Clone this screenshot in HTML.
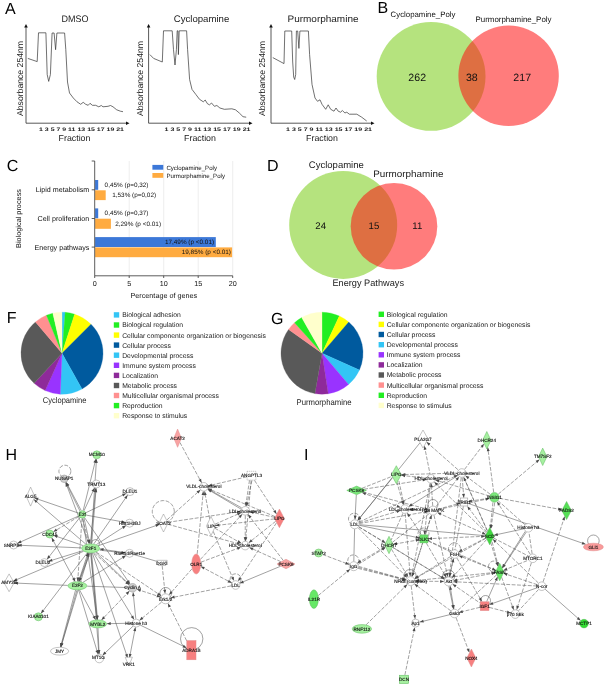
<!DOCTYPE html>
<html><head><meta charset="utf-8"><title>Figure</title>
<style>html,body{margin:0;padding:0;background:#fff}svg{display:block}text{font-family:"Liberation Sans", sans-serif;text-rendering:geometricPrecision}</style></head>
<body><svg width="604" height="685" viewBox="0 0 604 685">
<rect width="604" height="685" fill="#fff"/>
<text x="5.0" y="13.9" font-size="16" text-anchor="start" fill="#000" >A</text>
<text x="377.5" y="12.5" font-size="16" text-anchor="start" fill="#000" >B</text>
<text x="6.8" y="170.8" font-size="16" text-anchor="start" fill="#000" >C</text>
<text x="267.0" y="170.5" font-size="16" text-anchor="start" fill="#000" >D</text>
<text x="6.8" y="323.4" font-size="16" text-anchor="start" fill="#000" >F</text>
<text x="271.0" y="324.0" font-size="16" text-anchor="start" fill="#000" >G</text>
<text x="5.5" y="459.6" font-size="16" text-anchor="start" fill="#000" >H</text>
<text x="304.0" y="459.8" font-size="16" text-anchor="start" fill="#000" >I</text>
<path d="M26.0 26.5V123.2H127.0" fill="none" stroke="#222" stroke-width="0.75"/>
<path d="M24.2 27.5L26.0 24.0L27.8 27.5Z" fill="#111"/>
<path d="M126.0 121.4L129.5 123.2L126.0 125.0Z" fill="#111"/>
<path d="M27.8 58.4 L37.2 61.6 L38.5 32.8 L45.9 32.8 L47.2 74.5 L48.7 81.4 L50.4 74.5 L52.1 33.0 L54.1 33.0 L55.6 49.7 L56.9 33.0 L64.6 33.0 L65.8 49.7 L67.5 82.0 L69.5 93.0 L73.3 98.0 L77.0 101.8 L80.7 104.3 L83.2 102.3 L85.7 104.3 L88.2 105.3 L90.0 103.3 L92.4 105.3 L95.6 105.3 L98.8 106.8 L101.3 105.5 L103.0 106.8 L108.0 106.3 L110.5 105.5 L113.0 106.8 L116.7 109.8 L120.4 111.2 L123.0 111.7" fill="none" stroke="#333" stroke-width="0.7" stroke-linejoin="round"/>
<text x="75.0" y="22.0" font-size="9.5" text-anchor="middle" fill="#1a1a1a" textLength="27.0" lengthAdjust="spacingAndGlyphs" >DMSO</text>
<text x="74.5" y="141.0" font-size="8.8" text-anchor="middle" fill="#1a1a1a" >Fraction</text>
<text x="22.8" y="78.5" font-size="8.6" text-anchor="middle" fill="#1a1a1a" textLength="75.0" lengthAdjust="spacingAndGlyphs" transform="rotate(-90 22.8 78.5)" >Absorbance 254nm</text>
<text x="81.5" y="131.4" font-size="5" text-anchor="middle" fill="#222" textLength="85.0" lengthAdjust="spacingAndGlyphs" font-weight="bold" >1 3 5 7 9 11 13 15 17 19 21</text>
<path d="M148.6 26.5V123.2H250.0" fill="none" stroke="#222" stroke-width="0.75"/>
<path d="M146.8 27.5L148.6 24.0L150.4 27.5Z" fill="#111"/>
<path d="M249.0 121.4L252.5 123.2L249.0 125.0Z" fill="#111"/>
<path d="M149.9 54.6 L153.6 58.4 L162.3 62.0 L163.5 30.8 L172.2 30.8 L173.5 49.7 L175.0 65.0 L176.4 49.7 L177.2 30.8 L178.0 30.8 L178.4 54.6 L179.2 30.8 L186.6 30.8 L187.6 49.7 L189.6 79.5 L192.0 89.4 L195.8 94.4 L199.5 99.3 L203.3 101.8 L205.2 100.0 L207.5 103.8 L209.5 104.8 L211.5 103.0 L214.4 106.3 L216.9 105.5 L219.9 108.0 L224.4 109.3 L231.8 108.8 L235.5 109.8 L239.3 113.0 L243.0 116.7 L246.2 117.2" fill="none" stroke="#333" stroke-width="0.7" stroke-linejoin="round"/>
<text x="201.5" y="22.0" font-size="9.5" text-anchor="middle" fill="#1a1a1a" textLength="55.5" lengthAdjust="spacingAndGlyphs" >Cyclopamine</text>
<text x="200.0" y="141.0" font-size="8.8" text-anchor="middle" fill="#1a1a1a" >Fraction</text>
<text x="142.8" y="78.5" font-size="8.6" text-anchor="middle" fill="#1a1a1a" textLength="75.0" lengthAdjust="spacingAndGlyphs" transform="rotate(-90 142.8 78.5)" >Absorbance 254nm</text>
<text x="207.5" y="131.4" font-size="5" text-anchor="middle" fill="#222" textLength="86.0" lengthAdjust="spacingAndGlyphs" font-weight="bold" >1 3 5 7 9 11 13 15 17 19 21</text>
<path d="M271.0 26.5V123.2H372.0" fill="none" stroke="#222" stroke-width="0.75"/>
<path d="M269.2 27.5L271.0 24.0L272.8 27.5Z" fill="#111"/>
<path d="M371.0 121.4L374.5 123.2L371.0 125.0Z" fill="#111"/>
<path d="M272.8 57.6 L284.0 63.6 L284.8 31.0 L291.7 31.0 L292.7 62.0 L293.7 77.0 L294.7 79.5 L295.7 74.5 L296.4 31.0 L297.7 31.0 L298.9 48.4 L299.9 31.0 L308.4 31.0 L309.6 54.6 L312.0 84.4 L315.0 98.0 L317.5 101.3 L320.0 99.8 L322.0 104.3 L325.7 109.3 L328.2 104.8 L330.7 109.3 L334.0 111.2 L336.0 108.0 L338.2 111.2 L340.6 112.2 L342.4 110.5 L344.9 113.0 L346.8 112.2 L349.3 114.2 L356.8 114.2 L361.7 117.2 L366.7 121.0" fill="none" stroke="#333" stroke-width="0.7" stroke-linejoin="round"/>
<text x="323.0" y="22.0" font-size="9.5" text-anchor="middle" fill="#1a1a1a" textLength="71.0" lengthAdjust="spacingAndGlyphs" >Purmorphamine</text>
<text x="322.0" y="141.0" font-size="8.8" text-anchor="middle" fill="#1a1a1a" >Fraction</text>
<text x="265.3" y="78.5" font-size="8.6" text-anchor="middle" fill="#1a1a1a" textLength="75.0" lengthAdjust="spacingAndGlyphs" transform="rotate(-90 265.3 78.5)" >Absorbance 254nm</text>
<text x="329.0" y="131.4" font-size="5" text-anchor="middle" fill="#222" textLength="86.0" lengthAdjust="spacingAndGlyphs" font-weight="bold" >1 3 5 7 9 11 13 15 17 19 21</text>
<circle cx="431.1" cy="76.4" r="54.4" fill="#79cc14" fill-opacity="0.55"/>
<circle cx="508.6" cy="75.8" r="50.2" fill="#ff1010" fill-opacity="0.55"/>
<text x="390.6" y="17.4" font-size="7.8" text-anchor="start" fill="#111" textLength="64.8" lengthAdjust="spacingAndGlyphs" >Cyclopamine_Poly</text>
<text x="475.5" y="22.4" font-size="7.9" text-anchor="start" fill="#111" textLength="76.0" lengthAdjust="spacingAndGlyphs" >Purmorphamine_Poly</text>
<text x="417.2" y="80.5" font-size="10.6" text-anchor="middle" fill="#111" >262</text>
<text x="471.8" y="80.5" font-size="10.6" text-anchor="middle" fill="#111" >38</text>
<text x="522.2" y="80.5" font-size="10.6" text-anchor="middle" fill="#111" >217</text>
<path d="M129.2 161V275.8" stroke="#e3e3e3" stroke-width="0.6"/>
<path d="M163.7 161V275.8" stroke="#e3e3e3" stroke-width="0.6"/>
<path d="M198.2 161V275.8" stroke="#e3e3e3" stroke-width="0.6"/>
<path d="M232.7 161V275.8" stroke="#e3e3e3" stroke-width="0.6"/>
<rect x="95.1" y="180" width="3.1" height="9.8" fill="#3c78d8"/>
<rect x="95.1" y="190.3" width="10.6" height="9.8" fill="#ffab40"/>
<rect x="95.1" y="208.4" width="3.1" height="9.9" fill="#3c78d8"/>
<rect x="95.1" y="218.7" width="15.8" height="10.1" fill="#ffab40"/>
<rect x="95.1" y="237.1" width="120.7" height="9.9" fill="#3c78d8"/>
<rect x="95.1" y="247.4" width="137.0" height="9.8" fill="#ffab40"/>
<path d="M91.7 161H94.7V275.8H232.7" fill="none" stroke="#333" stroke-width="0.8"/>
<path d="M91.7 189.8H94.7" stroke="#333" stroke-width="0.8"/>
<path d="M91.7 218.5H94.7" stroke="#333" stroke-width="0.8"/>
<path d="M91.7 247.1H94.7" stroke="#333" stroke-width="0.8"/>
<path d="M94.7 275.8v2.2" stroke="#333" stroke-width="0.8"/>
<text x="94.7" y="286.3" font-size="7.2" text-anchor="middle" fill="#111" >0</text>
<path d="M129.2 275.8v2.2" stroke="#333" stroke-width="0.8"/>
<text x="129.2" y="286.3" font-size="7.2" text-anchor="middle" fill="#111" >5</text>
<path d="M163.7 275.8v2.2" stroke="#333" stroke-width="0.8"/>
<text x="163.7" y="286.3" font-size="7.2" text-anchor="middle" fill="#111" >10</text>
<path d="M198.2 275.8v2.2" stroke="#333" stroke-width="0.8"/>
<text x="198.2" y="286.3" font-size="7.2" text-anchor="middle" fill="#111" >15</text>
<path d="M232.7 275.8v2.2" stroke="#333" stroke-width="0.8"/>
<text x="232.7" y="286.3" font-size="7.2" text-anchor="middle" fill="#111" >20</text>
<text x="163.8" y="298.0" font-size="7.2" text-anchor="middle" fill="#111" textLength="66.5" lengthAdjust="spacingAndGlyphs" >Percentage of genes</text>
<text x="21.0" y="218.5" font-size="7.2" text-anchor="middle" fill="#111" textLength="59.0" lengthAdjust="spacingAndGlyphs" transform="rotate(-90 21.0 218.5)" >Biological process</text>
<text x="89.3" y="192.3" font-size="7.1" text-anchor="end" fill="#111" textLength="53.6" lengthAdjust="spacingAndGlyphs" >Lipid metabolism</text>
<text x="89.3" y="221.0" font-size="7.1" text-anchor="end" fill="#111" textLength="51.7" lengthAdjust="spacingAndGlyphs" >Cell proliferation</text>
<text x="89.3" y="249.6" font-size="7.1" text-anchor="end" fill="#111" textLength="54.7" lengthAdjust="spacingAndGlyphs" >Energy pathways</text>
<rect x="152.4" y="164.9" width="10.9" height="4.8" fill="#3c78d8"/>
<rect x="152.4" y="173" width="10.9" height="4.8" fill="#ffab40"/>
<text x="166.4" y="169.7" font-size="6.1" text-anchor="start" fill="#111" textLength="50.6" lengthAdjust="spacingAndGlyphs" >Cyclopamine_Poly</text>
<text x="166.4" y="177.7" font-size="6.1" text-anchor="start" fill="#111" textLength="58.6" lengthAdjust="spacingAndGlyphs" >Purmorphamine_Poly</text>
<text x="104.6" y="186.5" font-size="6.3" text-anchor="start" fill="#111" textLength="43.9" lengthAdjust="spacingAndGlyphs" >0,45% (p=0,32)</text>
<text x="112.2" y="196.9" font-size="6.3" text-anchor="start" fill="#111" textLength="43.9" lengthAdjust="spacingAndGlyphs" >1,53% (p=0,02)</text>
<text x="104.6" y="215.3" font-size="6.3" text-anchor="start" fill="#111" textLength="43.9" lengthAdjust="spacingAndGlyphs" >0,45% (p=0,37)</text>
<text x="115.2" y="225.6" font-size="6.3" text-anchor="start" fill="#111" textLength="45.9" lengthAdjust="spacingAndGlyphs" >2,29% (p &lt;0.01)</text>
<text x="164.9" y="244.1" font-size="6.3" text-anchor="start" fill="#111" textLength="49.2" lengthAdjust="spacingAndGlyphs" >17,49% (p &lt;0.01)</text>
<text x="181.7" y="254.4" font-size="6.3" text-anchor="start" fill="#111" textLength="49.3" lengthAdjust="spacingAndGlyphs" >19,85% (p &lt;0.01)</text>
<circle cx="343.2" cy="224.9" r="54" fill="#79cc14" fill-opacity="0.55"/>
<circle cx="394" cy="226.3" r="43.3" fill="#ff1010" fill-opacity="0.55"/>
<text x="308.8" y="167.5" font-size="9.5" text-anchor="start" fill="#1a1a1a" textLength="55.0" lengthAdjust="spacingAndGlyphs" >Cyclopamine</text>
<text x="373.2" y="176.8" font-size="9.5" text-anchor="start" fill="#1a1a1a" textLength="70.2" lengthAdjust="spacingAndGlyphs" >Purmorphamine</text>
<text x="332.4" y="285.5" font-size="9.3" text-anchor="start" fill="#1a1a1a" textLength="71.6" lengthAdjust="spacingAndGlyphs" >Energy Pathways</text>
<text x="320.7" y="229.0" font-size="9.6" text-anchor="middle" fill="#111" >24</text>
<text x="373.9" y="229.0" font-size="9.6" text-anchor="middle" fill="#111" >15</text>
<text x="417.3" y="229.0" font-size="9.6" text-anchor="middle" fill="#111" >11</text>
<path d="M62 353.2L62.00 312.20A41 41 0 0 1 65.22 312.33Z" fill="#33c5f5" stroke="#33c5f5" stroke-width="0.3"/>
<path d="M62 353.2L65.22 312.33A41 41 0 0 1 74.67 314.21Z" fill="#22ee22" stroke="#22ee22" stroke-width="0.3"/>
<path d="M62 353.2L74.67 314.21A41 41 0 0 1 90.99 324.21Z" fill="#ffff00" stroke="#ffff00" stroke-width="0.3"/>
<path d="M62 353.2L90.99 324.21A41 41 0 0 1 82.00 388.99Z" fill="#005a9e" stroke="#005a9e" stroke-width="0.3"/>
<path d="M62 353.2L82.00 388.99A41 41 0 0 1 60.28 394.16Z" fill="#33c5f5" stroke="#33c5f5" stroke-width="0.3"/>
<path d="M62 353.2L60.28 394.16A41 41 0 0 1 45.19 390.60Z" fill="#9933ff" stroke="#9933ff" stroke-width="0.3"/>
<path d="M62 353.2L45.19 390.60A41 41 0 0 1 34.20 383.33Z" fill="#8e2a9a" stroke="#8e2a9a" stroke-width="0.3"/>
<path d="M62 353.2L34.20 383.33A41 41 0 0 1 35.48 321.93Z" fill="#595959" stroke="#595959" stroke-width="0.3"/>
<path d="M62 353.2L35.48 321.93A41 41 0 0 1 46.44 315.27Z" fill="#ff9090" stroke="#ff9090" stroke-width="0.3"/>
<path d="M62 353.2L46.44 315.27A41 41 0 0 1 52.85 313.23Z" fill="#22ee22" stroke="#22ee22" stroke-width="0.3"/>
<path d="M62 353.2L52.85 313.23A41 41 0 0 1 62.00 312.20Z" fill="#ffffcc" stroke="#ffffcc" stroke-width="0.3"/>
<path d="M322 353.2L322.00 312.20A41 41 0 0 1 339.33 316.04Z" fill="#22ee22" stroke="#22ee22" stroke-width="0.3"/>
<path d="M322 353.2L339.33 316.04A41 41 0 0 1 348.74 322.12Z" fill="#ffff00" stroke="#ffff00" stroke-width="0.3"/>
<path d="M322 353.2L348.74 322.12A41 41 0 0 1 359.40 370.01Z" fill="#005a9e" stroke="#005a9e" stroke-width="0.3"/>
<path d="M322 353.2L359.40 370.01A41 41 0 0 1 348.52 384.47Z" fill="#33c5f5" stroke="#33c5f5" stroke-width="0.3"/>
<path d="M322 353.2L348.52 384.47A41 41 0 0 1 328.20 393.73Z" fill="#9933ff" stroke="#9933ff" stroke-width="0.3"/>
<path d="M322 353.2L328.20 393.73A41 41 0 0 1 314.95 393.59Z" fill="#8e2a9a" stroke="#8e2a9a" stroke-width="0.3"/>
<path d="M322 353.2L314.95 393.59A41 41 0 0 1 288.58 329.45Z" fill="#595959" stroke="#595959" stroke-width="0.3"/>
<path d="M322 353.2L288.58 329.45A41 41 0 0 1 294.57 322.73Z" fill="#ff9090" stroke="#ff9090" stroke-width="0.3"/>
<path d="M322 353.2L294.57 322.73A41 41 0 0 1 301.69 317.59Z" fill="#22ee22" stroke="#22ee22" stroke-width="0.3"/>
<path d="M322 353.2L301.69 317.59A41 41 0 0 1 322.00 312.20Z" fill="#ffffcc" stroke="#ffffcc" stroke-width="0.3"/>
<text x="64.6" y="403.4" font-size="8.3" text-anchor="middle" fill="#1a1a1a" textLength="43.5" lengthAdjust="spacingAndGlyphs" >Cyclopamine</text>
<text x="324.0" y="404.6" font-size="8.3" text-anchor="middle" fill="#1a1a1a" textLength="55.0" lengthAdjust="spacingAndGlyphs" >Purmorphamine</text>
<rect x="113.8" y="312.2" width="5.4" height="5.4" fill="#33c5f5"/>
<text x="122.2" y="317.3" font-size="6.8" text-anchor="start" fill="#1a1a1a" textLength="58.6" lengthAdjust="spacingAndGlyphs" >Biological adhesion</text>
<rect x="113.8" y="322.3" width="5.4" height="5.4" fill="#22ee22"/>
<text x="122.2" y="327.4" font-size="6.8" text-anchor="start" fill="#1a1a1a" textLength="60.9" lengthAdjust="spacingAndGlyphs" >Biological regulation</text>
<rect x="113.8" y="332.4" width="5.4" height="5.4" fill="#ffff00"/>
<text x="122.2" y="337.5" font-size="6.8" text-anchor="start" fill="#1a1a1a" textLength="143.6" lengthAdjust="spacingAndGlyphs" >Cellular componente organization or biogenesis</text>
<rect x="113.8" y="342.4" width="5.4" height="5.4" fill="#005a9e"/>
<text x="122.2" y="347.5" font-size="6.8" text-anchor="start" fill="#1a1a1a" textLength="48.7" lengthAdjust="spacingAndGlyphs" >Cellular process</text>
<rect x="113.8" y="352.5" width="5.4" height="5.4" fill="#33c5f5"/>
<text x="122.2" y="357.6" font-size="6.8" text-anchor="start" fill="#1a1a1a" textLength="71.1" lengthAdjust="spacingAndGlyphs" >Developmental process</text>
<rect x="113.8" y="362.6" width="5.4" height="5.4" fill="#9933ff"/>
<text x="122.2" y="367.7" font-size="6.8" text-anchor="start" fill="#1a1a1a" textLength="73.7" lengthAdjust="spacingAndGlyphs" >Immune system process</text>
<rect x="113.8" y="372.7" width="5.4" height="5.4" fill="#8e2a9a"/>
<text x="122.2" y="377.8" font-size="6.8" text-anchor="start" fill="#1a1a1a" textLength="35.9" lengthAdjust="spacingAndGlyphs" >Localization</text>
<rect x="113.8" y="382.8" width="5.4" height="5.4" fill="#595959"/>
<text x="122.2" y="387.9" font-size="6.8" text-anchor="start" fill="#1a1a1a" textLength="54.8" lengthAdjust="spacingAndGlyphs" >Metabolic process</text>
<rect x="113.8" y="392.8" width="5.4" height="5.4" fill="#ff9090"/>
<text x="122.2" y="397.9" font-size="6.8" text-anchor="start" fill="#1a1a1a" textLength="96.7" lengthAdjust="spacingAndGlyphs" >Multicellular organismal process</text>
<rect x="113.8" y="402.9" width="5.4" height="5.4" fill="#22ee22"/>
<text x="122.2" y="408.0" font-size="6.8" text-anchor="start" fill="#1a1a1a" textLength="40.4" lengthAdjust="spacingAndGlyphs" >Reproduction</text>
<rect x="113.8" y="413.0" width="5.4" height="5.4" fill="#ffffcc"/>
<text x="122.2" y="418.1" font-size="6.8" text-anchor="start" fill="#1a1a1a" textLength="65.0" lengthAdjust="spacingAndGlyphs" >Response to stimulus</text>
<rect x="378.6" y="311.6" width="5.4" height="5.4" fill="#22ee22"/>
<text x="386.7" y="316.7" font-size="6.8" text-anchor="start" fill="#1a1a1a" textLength="60.9" lengthAdjust="spacingAndGlyphs" >Biological regulation</text>
<rect x="378.6" y="321.7" width="5.4" height="5.4" fill="#ffff00"/>
<text x="386.7" y="326.8" font-size="6.8" text-anchor="start" fill="#1a1a1a" textLength="143.6" lengthAdjust="spacingAndGlyphs" >Cellular componente organization or biogenesis</text>
<rect x="378.6" y="331.8" width="5.4" height="5.4" fill="#005a9e"/>
<text x="386.7" y="336.9" font-size="6.8" text-anchor="start" fill="#1a1a1a" textLength="48.7" lengthAdjust="spacingAndGlyphs" >Cellular process</text>
<rect x="378.6" y="342.0" width="5.4" height="5.4" fill="#33c5f5"/>
<text x="386.7" y="347.1" font-size="6.8" text-anchor="start" fill="#1a1a1a" textLength="71.1" lengthAdjust="spacingAndGlyphs" >Developmental process</text>
<rect x="378.6" y="352.1" width="5.4" height="5.4" fill="#9933ff"/>
<text x="386.7" y="357.2" font-size="6.8" text-anchor="start" fill="#1a1a1a" textLength="73.7" lengthAdjust="spacingAndGlyphs" >Immune system process</text>
<rect x="378.6" y="362.2" width="5.4" height="5.4" fill="#8e2a9a"/>
<text x="386.7" y="367.3" font-size="6.8" text-anchor="start" fill="#1a1a1a" textLength="35.9" lengthAdjust="spacingAndGlyphs" >Localization</text>
<rect x="378.6" y="372.3" width="5.4" height="5.4" fill="#595959"/>
<text x="386.7" y="377.4" font-size="6.8" text-anchor="start" fill="#1a1a1a" textLength="54.8" lengthAdjust="spacingAndGlyphs" >Metabolic process</text>
<rect x="378.6" y="382.4" width="5.4" height="5.4" fill="#ff9090"/>
<text x="386.7" y="387.5" font-size="6.8" text-anchor="start" fill="#1a1a1a" textLength="96.7" lengthAdjust="spacingAndGlyphs" >Multicellular organismal process</text>
<rect x="378.6" y="392.6" width="5.4" height="5.4" fill="#22ee22"/>
<text x="386.7" y="397.7" font-size="6.8" text-anchor="start" fill="#1a1a1a" textLength="40.4" lengthAdjust="spacingAndGlyphs" >Reproduction</text>
<rect x="378.6" y="402.7" width="5.4" height="5.4" fill="#ffffcc"/>
<text x="386.7" y="407.8" font-size="6.8" text-anchor="start" fill="#1a1a1a" textLength="65.0" lengthAdjust="spacingAndGlyphs" >Response to stimulus</text>
<circle cx="64.9" cy="471.2" r="6" fill="none" stroke="#555" stroke-width="0.55" stroke-dasharray="3.9 1.5"/>
<circle cx="95.5" cy="543.5" r="4" fill="none" stroke="#555" stroke-width="0.55"/>
<circle cx="77.6" cy="581.5" r="3.6" fill="none" stroke="#555" stroke-width="0.55" stroke-dasharray="3.9 1.5"/>
<circle cx="163.3" cy="511.6" r="11" fill="none" stroke="#555" stroke-width="0.55" stroke-dasharray="3.9 1.5"/>
<circle cx="235.6" cy="579.3" r="5.5" fill="none" stroke="#555" stroke-width="0.55" stroke-dasharray="3.9 1.5"/>
<circle cx="165.7" cy="593.3" r="5.8" fill="none" stroke="#555" stroke-width="0.55"/>
<circle cx="191.7" cy="638.8" r="11.2" fill="none" stroke="#555" stroke-width="0.55"/>
<circle cx="433" cy="504.5" r="5" fill="none" stroke="#555" stroke-width="0.55"/>
<circle cx="354.3" cy="519" r="5.8" fill="none" stroke="#555" stroke-width="0.55" stroke-dasharray="3.9 1.5"/>
<circle cx="423.5" cy="533.5" r="5.5" fill="none" stroke="#555" stroke-width="0.55" stroke-dasharray="3.9 1.5"/>
<circle cx="593.4" cy="540.8" r="5.8" fill="none" stroke="#555" stroke-width="0.55"/>
<circle cx="454.5" cy="548.8" r="6" fill="none" stroke="#555" stroke-width="0.55" stroke-dasharray="3.9 1.5"/>
<circle cx="353.3" cy="560.4" r="5.5" fill="none" stroke="#555" stroke-width="0.55" stroke-dasharray="3.9 1.5"/>
<circle cx="494" cy="566.5" r="5.5" fill="none" stroke="#555" stroke-width="0.55" stroke-dasharray="3.9 1.5"/>
<circle cx="410" cy="575.5" r="6" fill="none" stroke="#555" stroke-width="0.55"/>
<circle cx="448.7" cy="576" r="6" fill="none" stroke="#555" stroke-width="0.55"/>
<circle cx="485.5" cy="600.5" r="5" fill="none" stroke="#555" stroke-width="0.55"/>
<path d="M83.2 510.5L95.8 459.0" stroke="#555" stroke-width="0.55" fill="none"/>
<path d="M95.8 459.0L96.3 463.0L93.4 462.3Z" fill="#4a4a4a"/>
<path d="M80.0 511.1L65.9 482.5" stroke="#555" stroke-width="0.55" fill="none"/>
<path d="M65.9 482.5L68.9 485.3L66.2 486.6Z" fill="#4a4a4a"/>
<path d="M81.2 510.5L66.3 482.3" stroke="#555" stroke-width="0.55" fill="none"/>
<path d="M66.3 482.3L69.4 485.0L66.7 486.4Z" fill="#4a4a4a"/>
<path d="M84.0 510.8L94.5 487.9" stroke="#555" stroke-width="0.55" fill="none"/>
<path d="M94.5 487.9L94.3 492.0L91.5 490.7Z" fill="#4a4a4a"/>
<path d="M85.9 512.7L126.1 493.5" stroke="#555" stroke-width="0.55" fill="none"/>
<path d="M126.1 493.5L123.3 496.4L122.0 493.7Z" fill="#4a4a4a"/>
<path d="M78.5 513.1L34.5 498.0" stroke="#555" stroke-width="0.55" fill="none"/>
<path d="M34.5 498.0L38.6 497.8L37.6 500.6Z" fill="#4a4a4a"/>
<path d="M86.2 515.1L125.4 522.4" stroke="#555" stroke-width="0.55" fill="none"/>
<path d="M125.4 522.4L121.4 523.2L121.9 520.2Z" fill="#4a4a4a"/>
<path d="M78.9 516.5L53.4 531.8" stroke="#555" stroke-width="0.55" fill="none" stroke-dasharray="3.9 1.5"/>
<path d="M53.4 531.8L55.9 528.5L57.4 531.1Z" fill="#4a4a4a"/>
<path d="M78.6 516.0L17.5 543.3" stroke="#555" stroke-width="0.55" fill="none"/>
<path d="M17.5 543.3L20.4 540.3L21.6 543.1Z" fill="#4a4a4a"/>
<path d="M79.8 517.5L47.1 559.2" stroke="#555" stroke-width="0.55" fill="none"/>
<path d="M47.1 559.2L48.2 555.3L50.6 557.2Z" fill="#4a4a4a"/>
<path d="M84.0 518.1L89.8 543.6" stroke="#555" stroke-width="0.55" fill="none"/>
<path d="M89.8 543.6L87.5 540.2L90.4 539.5Z" fill="#4a4a4a"/>
<path d="M82.4 518.5L89.3 543.7" stroke="#555" stroke-width="0.55" fill="none" stroke-dasharray="3.9 1.5"/>
<path d="M89.3 543.7L86.8 540.4L89.7 539.6Z" fill="#4a4a4a"/>
<path d="M82.0 518.4L77.7 581.5" stroke="#555" stroke-width="0.55" fill="none" stroke-dasharray="3.9 1.5"/>
<path d="M77.7 581.5L76.5 577.6L79.5 577.8Z" fill="#4a4a4a"/>
<path d="M82.9 518.4L97.2 619.6" stroke="#555" stroke-width="0.55" fill="none"/>
<path d="M97.2 619.6L95.2 616.1L98.1 615.6Z" fill="#4a4a4a"/>
<path d="M84.6 517.7L130.0 584.0" stroke="#555" stroke-width="0.55" fill="none"/>
<path d="M130.0 584.0L126.6 581.7L129.1 580.0Z" fill="#4a4a4a"/>
<path d="M91.0 543.6L96.5 459.1" stroke="#555" stroke-width="0.55" fill="none"/>
<path d="M96.5 459.1L97.8 463.0L94.8 462.8Z" fill="#4a4a4a"/>
<path d="M88.9 543.7L65.7 482.6" stroke="#555" stroke-width="0.55" fill="none"/>
<path d="M65.7 482.6L68.4 485.6L65.6 486.7Z" fill="#4a4a4a"/>
<path d="M90.5 543.6L95.7 488.3" stroke="#555" stroke-width="0.55" fill="none"/>
<path d="M95.7 488.3L96.9 492.2L93.9 491.9Z" fill="#4a4a4a"/>
<path d="M91.7 543.7L96.1 488.3" stroke="#555" stroke-width="0.55" fill="none"/>
<path d="M96.1 488.3L97.3 492.2L94.3 492.0Z" fill="#4a4a4a"/>
<path d="M93.8 543.9L127.6 495.1" stroke="#555" stroke-width="0.55" fill="none"/>
<path d="M127.6 495.1L126.6 499.1L124.2 497.4Z" fill="#4a4a4a"/>
<path d="M86.0 544.3L33.9 499.4" stroke="#555" stroke-width="0.55" fill="none"/>
<path d="M33.9 499.4L37.7 500.8L35.8 503.0Z" fill="#4a4a4a"/>
<path d="M96.4 544.6L126.0 525.5" stroke="#555" stroke-width="0.55" fill="none"/>
<path d="M126.0 525.5L123.6 528.9L122.0 526.3Z" fill="#4a4a4a"/>
<path d="M98.3 545.7L159.4 524.4" stroke="#555" stroke-width="0.55" fill="none"/>
<path d="M159.4 524.4L156.3 527.1L155.3 524.3Z" fill="#4a4a4a"/>
<path d="M83.1 545.6L53.8 535.4" stroke="#555" stroke-width="0.55" fill="none"/>
<path d="M53.8 535.4L57.8 535.3L56.9 538.1Z" fill="#4a4a4a"/>
<path d="M81.4 547.9L17.9 545.2" stroke="#555" stroke-width="0.55" fill="none"/>
<path d="M17.9 545.2L21.8 543.8L21.6 546.8Z" fill="#4a4a4a"/>
<path d="M82.8 550.7L48.5 561.3" stroke="#555" stroke-width="0.55" fill="none"/>
<path d="M48.5 561.3L51.7 558.8L52.6 561.6Z" fill="#4a4a4a"/>
<path d="M83.6 551.3L13.4 581.0" stroke="#555" stroke-width="0.55" fill="none"/>
<path d="M13.4 581.0L16.3 578.1L17.5 580.9Z" fill="#4a4a4a"/>
<path d="M99.8 549.0L125.4 552.6" stroke="#555" stroke-width="0.55" fill="none"/>
<path d="M99.8 549.0L103.7 548.0L103.3 551.0Z" fill="#4a4a4a"/>
<path d="M99.6 550.2L125.3 553.0" stroke="#555" stroke-width="0.55" fill="none"/>
<path d="M125.3 553.0L121.4 554.0L121.7 551.1Z" fill="#4a4a4a"/>
<path d="M87.4 552.7L41.0 613.4" stroke="#555" stroke-width="0.55" fill="none"/>
<path d="M41.0 613.4L42.1 609.5L44.5 611.3Z" fill="#4a4a4a"/>
<path d="M95.5 552.0L129.4 584.5" stroke="#555" stroke-width="0.55" fill="none"/>
<path d="M129.4 584.5L125.6 583.0L127.7 580.8Z" fill="#4a4a4a"/>
<path d="M94.4 553.1L129.1 584.8" stroke="#555" stroke-width="0.55" fill="none" stroke-dasharray="3.9 1.5"/>
<path d="M129.1 584.8L125.3 583.4L127.3 581.2Z" fill="#4a4a4a"/>
<path d="M96.2 552.0L161.2 595.8" stroke="#555" stroke-width="0.55" fill="none" stroke-dasharray="3.9 1.5"/>
<path d="M161.2 595.8L157.2 595.0L158.9 592.5Z" fill="#4a4a4a"/>
<path d="M91.6 552.9L97.5 619.6" stroke="#555" stroke-width="0.55" fill="none"/>
<path d="M97.5 619.6L95.7 615.9L98.7 615.7Z" fill="#4a4a4a"/>
<path d="M90.6 553.0L97.2 619.6" stroke="#555" stroke-width="0.55" fill="none"/>
<path d="M97.2 619.6L95.4 616.0L98.4 615.7Z" fill="#4a4a4a"/>
<path d="M91.1 553.0L98.9 653.9" stroke="#555" stroke-width="0.55" fill="none"/>
<path d="M98.9 653.9L97.2 650.2L100.1 650.0Z" fill="#4a4a4a"/>
<path d="M92.3 552.9L127.6 657.9" stroke="#555" stroke-width="0.55" fill="none"/>
<path d="M127.6 657.9L125.0 654.8L127.8 653.8Z" fill="#4a4a4a"/>
<path d="M93.4 552.8L134.0 619.4" stroke="#555" stroke-width="0.55" fill="none"/>
<path d="M134.0 619.4L130.7 617.0L133.3 615.4Z" fill="#4a4a4a"/>
<path d="M90.0 553.3L79.2 581.7" stroke="#555" stroke-width="0.55" fill="none"/>
<path d="M79.2 581.7L79.1 577.6L81.9 578.6Z" fill="#4a4a4a"/>
<path d="M89.1 552.9L78.9 581.6" stroke="#555" stroke-width="0.55" fill="none"/>
<path d="M89.1 552.9L89.2 557.0L86.4 556.0Z" fill="#4a4a4a"/>
<path d="M88.1 552.6L78.6 581.5" stroke="#555" stroke-width="0.55" fill="none"/>
<path d="M78.6 581.5L78.4 577.4L81.2 578.3Z" fill="#4a4a4a"/>
<path d="M88.1 552.6L88.4 556.7L85.5 555.7Z" fill="#4a4a4a"/>
<path d="M89.3 552.9L60.9 647.0" stroke="#555" stroke-width="0.55" fill="none"/>
<path d="M60.9 647.0L60.5 643.0L63.4 643.8Z" fill="#4a4a4a"/>
<path d="M75.2 581.6L51.7 537.8" stroke="#555" stroke-width="0.55" fill="none"/>
<path d="M51.7 537.8L54.8 540.4L52.2 541.9Z" fill="#4a4a4a"/>
<path d="M75.2 581.6L72.1 579.0L74.7 577.6Z" fill="#4a4a4a"/>
<path d="M67.7 585.4L14.3 583.0" stroke="#555" stroke-width="0.55" fill="none"/>
<path d="M14.3 583.0L18.1 581.7L18.0 584.7Z" fill="#4a4a4a"/>
<path d="M83.0 582.3L125.9 555.6" stroke="#555" stroke-width="0.55" fill="none"/>
<path d="M125.9 555.6L123.5 558.9L121.9 556.3Z" fill="#4a4a4a"/>
<path d="M87.2 586.2L128.0 587.6" stroke="#555" stroke-width="0.55" fill="none"/>
<path d="M79.6 590.0L95.6 619.7" stroke="#555" stroke-width="0.55" fill="none"/>
<path d="M95.6 619.7L92.5 617.1L95.1 615.7Z" fill="#4a4a4a"/>
<path d="M78.7 590.1L98.0 654.1" stroke="#555" stroke-width="0.55" fill="none"/>
<path d="M98.0 654.1L95.4 650.9L98.3 650.0Z" fill="#4a4a4a"/>
<path d="M76.9 590.2L60.9 647.1" stroke="#555" stroke-width="0.55" fill="none"/>
<path d="M60.9 647.1L60.5 643.0L63.4 643.8Z" fill="#4a4a4a"/>
<path d="M75.6 589.9L60.5 647.0" stroke="#555" stroke-width="0.55" fill="none"/>
<path d="M60.5 647.0L60.0 642.9L62.9 643.7Z" fill="#4a4a4a"/>
<path d="M133.7 554.5L156.3 561.2" stroke="#555" stroke-width="0.55" fill="none"/>
<path d="M162.2 565.8L165.1 593.5" stroke="#555" stroke-width="0.55" fill="none" stroke-dasharray="3.9 1.5"/>
<path d="M165.1 593.5L163.2 589.9L166.2 589.6Z" fill="#4a4a4a"/>
<path d="M137.0 589.3L160.6 597.1" stroke="#555" stroke-width="0.55" fill="none" stroke-dasharray="3.9 1.5"/>
<path d="M160.6 597.1L156.5 597.3L157.4 594.5Z" fill="#4a4a4a"/>
<path d="M137.0 589.3L141.0 589.0L140.1 591.9Z" fill="#4a4a4a"/>
<path d="M129.4 591.1L101.5 620.0" stroke="#555" stroke-width="0.55" fill="none" stroke-dasharray="3.9 1.5"/>
<path d="M101.5 620.0L103.1 616.2L105.3 618.3Z" fill="#4a4a4a"/>
<path d="M129.4 591.1L127.9 594.9L125.7 592.8Z" fill="#4a4a4a"/>
<path d="M135.8 618.8L133.1 592.4" stroke="#555" stroke-width="0.55" fill="none"/>
<path d="M133.1 592.4L134.9 596.0L132.0 596.3Z" fill="#4a4a4a"/>
<path d="M131.9 623.2L106.9 623.7" stroke="#555" stroke-width="0.55" fill="none"/>
<path d="M106.9 623.7L110.7 622.1L110.7 625.1Z" fill="#4a4a4a"/>
<path d="M133.1 626.1L102.6 655.3" stroke="#555" stroke-width="0.55" fill="none"/>
<path d="M102.6 655.3L104.3 651.6L106.4 653.8Z" fill="#4a4a4a"/>
<path d="M135.4 627.3L129.5 657.8" stroke="#555" stroke-width="0.55" fill="none"/>
<path d="M129.5 657.8L128.8 653.8L131.7 654.3Z" fill="#4a4a4a"/>
<path d="M135.4 627.3L136.1 631.3L133.2 630.8Z" fill="#4a4a4a"/>
<path d="M140.1 625.0L186.5 647.8" stroke="#555" stroke-width="0.55" fill="none"/>
<path d="M186.5 647.8L182.5 647.5L183.8 644.8Z" fill="#4a4a4a"/>
<path d="M161.5 602.2L139.5 620.4" stroke="#555" stroke-width="0.55" fill="none" stroke-dasharray="3.9 1.5"/>
<path d="M139.5 620.4L141.5 616.8L143.4 619.1Z" fill="#4a4a4a"/>
<path d="M186.7 640.8L168.0 603.5" stroke="#555" stroke-width="0.55" fill="none" stroke-dasharray="3.9 1.5"/>
<path d="M168.0 603.5L171.0 606.3L168.3 607.6Z" fill="#4a4a4a"/>
<path d="M231.1 585.9L170.8 597.8" stroke="#555" stroke-width="0.55" fill="none" stroke-dasharray="3.9 1.5"/>
<path d="M170.8 597.8L174.2 595.6L174.8 598.5Z" fill="#4a4a4a"/>
<path d="M192.0 568.8L169.1 594.8" stroke="#555" stroke-width="0.55" fill="none" stroke-dasharray="3.9 1.5"/>
<path d="M169.1 594.8L170.5 591.0L172.7 593.0Z" fill="#4a4a4a"/>
<path d="M98.0 628.2L99.1 653.9" stroke="#555" stroke-width="0.55" fill="none"/>
<path d="M99.1 653.9L97.4 650.2L100.4 650.0Z" fill="#4a4a4a"/>
<path d="M179.9 442.4L201.6 482.8" stroke="#555" stroke-width="0.55" fill="none" stroke-dasharray="3.9 1.5"/>
<path d="M201.6 482.8L198.5 480.1L201.1 478.7Z" fill="#4a4a4a"/>
<path d="M166.8 520.0L200.4 489.9" stroke="#555" stroke-width="0.55" fill="none" stroke-dasharray="3.9 1.5"/>
<path d="M200.4 489.9L198.6 493.5L196.5 491.3Z" fill="#4a4a4a"/>
<path d="M168.0 522.3L240.8 511.5" stroke="#555" stroke-width="0.55" fill="none" stroke-dasharray="3.9 1.5"/>
<path d="M240.8 511.5L237.2 513.5L236.8 510.6Z" fill="#4a4a4a"/>
<path d="M167.7 524.2L240.8 544.4" stroke="#555" stroke-width="0.55" fill="none" stroke-dasharray="3.9 1.5"/>
<path d="M240.8 544.4L236.7 544.8L237.5 541.9Z" fill="#4a4a4a"/>
<path d="M246.8 476.8L208.3 485.8" stroke="#555" stroke-width="0.55" fill="none" stroke-dasharray="3.9 1.5"/>
<path d="M208.3 485.8L211.6 483.4L212.3 486.4Z" fill="#4a4a4a"/>
<path d="M251.9 480.6L246.5 506.3" stroke="#555" stroke-width="0.55" fill="none" stroke-dasharray="3.9 1.5"/>
<path d="M246.5 506.3L245.8 502.3L248.7 502.9Z" fill="#4a4a4a"/>
<path d="M249.5 480.2L245.7 506.2" stroke="#555" stroke-width="0.55" fill="none" stroke-dasharray="3.9 1.5"/>
<path d="M245.7 506.2L244.8 502.2L247.8 502.7Z" fill="#4a4a4a"/>
<path d="M254.5 480.4L276.5 514.0" stroke="#555" stroke-width="0.55" fill="none" stroke-dasharray="3.9 1.5"/>
<path d="M276.5 514.0L273.2 511.6L275.7 510.0Z" fill="#4a4a4a"/>
<path d="M251.1 480.4L245.6 541.0" stroke="#555" stroke-width="0.55" fill="none" stroke-dasharray="3.9 1.5"/>
<path d="M245.6 541.0L244.5 537.1L247.4 537.4Z" fill="#4a4a4a"/>
<path d="M241.0 509.1L207.7 489.3" stroke="#555" stroke-width="0.55" fill="none"/>
<path d="M207.7 489.3L211.7 489.9L210.2 492.5Z" fill="#4a4a4a"/>
<path d="M241.7 507.9L207.9 488.9" stroke="#555" stroke-width="0.55" fill="none"/>
<path d="M207.9 488.9L211.9 489.5L210.5 492.1Z" fill="#4a4a4a"/>
<path d="M275.1 516.6L208.0 488.6" stroke="#555" stroke-width="0.55" fill="none" stroke-dasharray="3.9 1.5"/>
<path d="M208.0 488.6L212.1 488.7L211.0 491.4Z" fill="#4a4a4a"/>
<path d="M274.7 517.4L249.8 511.8" stroke="#555" stroke-width="0.55" fill="none" stroke-dasharray="3.9 1.5"/>
<path d="M249.8 511.8L253.8 511.2L253.2 514.1Z" fill="#4a4a4a"/>
<path d="M274.5 518.9L215.6 525.5" stroke="#555" stroke-width="0.55" fill="none" stroke-dasharray="3.9 1.5"/>
<path d="M215.6 525.5L219.2 523.6L219.5 526.6Z" fill="#4a4a4a"/>
<path d="M275.7 521.3L248.8 542.7" stroke="#555" stroke-width="0.55" fill="none" stroke-dasharray="3.9 1.5"/>
<path d="M248.8 542.7L250.8 539.2L252.7 541.5Z" fill="#4a4a4a"/>
<path d="M276.5 522.8L238.1 581.2" stroke="#555" stroke-width="0.55" fill="none" stroke-dasharray="3.9 1.5"/>
<path d="M238.1 581.2L239.0 577.2L241.5 578.8Z" fill="#4a4a4a"/>
<path d="M209.7 518.9L204.6 491.3" stroke="#555" stroke-width="0.55" fill="none" stroke-dasharray="3.9 1.5"/>
<path d="M204.6 491.3L206.8 494.8L203.8 495.3Z" fill="#4a4a4a"/>
<path d="M215.0 524.2L241.1 512.7" stroke="#555" stroke-width="0.55" fill="none" stroke-dasharray="3.9 1.5"/>
<path d="M241.1 512.7L238.2 515.6L237.0 512.8Z" fill="#4a4a4a"/>
<path d="M214.8 528.2L241.2 543.3" stroke="#555" stroke-width="0.55" fill="none" stroke-dasharray="3.9 1.5"/>
<path d="M241.2 543.3L237.2 542.7L238.7 540.1Z" fill="#4a4a4a"/>
<path d="M213.2 531.3L233.8 580.8" stroke="#555" stroke-width="0.55" fill="none" stroke-dasharray="3.9 1.5"/>
<path d="M233.8 580.8L231.0 577.8L233.8 576.7Z" fill="#4a4a4a"/>
<path d="M197.2 553.9L203.3 491.4" stroke="#555" stroke-width="0.55" fill="none" stroke-dasharray="3.9 1.5"/>
<path d="M203.3 491.4L204.5 495.3L201.5 495.0Z" fill="#4a4a4a"/>
<path d="M200.4 559.4L242.2 514.2" stroke="#555" stroke-width="0.55" fill="none" stroke-dasharray="3.9 1.5"/>
<path d="M242.2 514.2L240.7 518.0L238.5 516.0Z" fill="#4a4a4a"/>
<path d="M200.9 562.2L240.9 547.2" stroke="#555" stroke-width="0.55" fill="none" stroke-dasharray="3.9 1.5"/>
<path d="M240.9 547.2L237.9 550.0L236.8 547.1Z" fill="#4a4a4a"/>
<path d="M200.8 566.5L231.5 582.8" stroke="#555" stroke-width="0.55" fill="none" stroke-dasharray="3.9 1.5"/>
<path d="M231.5 582.8L227.5 582.4L228.9 579.7Z" fill="#4a4a4a"/>
<path d="M200.8 566.5L204.9 566.9L203.5 569.6Z" fill="#4a4a4a"/>
<path d="M280.7 566.2L239.8 583.2" stroke="#555" stroke-width="0.55" fill="none"/>
<path d="M239.8 583.2L242.8 580.4L243.9 583.2Z" fill="#4a4a4a"/>
<path d="M280.9 561.7L249.4 547.5" stroke="#555" stroke-width="0.55" fill="none" stroke-dasharray="3.9 1.5"/>
<path d="M249.4 547.5L253.5 547.7L252.2 550.4Z" fill="#4a4a4a"/>
<path d="M283.2 560.4L248.1 514.5" stroke="#555" stroke-width="0.55" fill="none" stroke-dasharray="3.9 1.5"/>
<path d="M248.1 514.5L251.6 516.6L249.2 518.4Z" fill="#4a4a4a"/>
<path d="M245.3 515.4L245.2 541.0" stroke="#555" stroke-width="0.55" fill="none" stroke-dasharray="3.9 1.5"/>
<path d="M245.2 541.0L243.7 537.2L246.7 537.2Z" fill="#4a4a4a"/>
<path d="M419.9 442.9L357.7 520.6" stroke="#555" stroke-width="0.55" fill="none"/>
<path d="M357.7 520.6L358.9 516.6L361.2 518.5Z" fill="#4a4a4a"/>
<path d="M392.4 477.9L357.6 520.4" stroke="#555" stroke-width="0.55" fill="none"/>
<path d="M357.6 520.4L358.8 516.6L361.1 518.5Z" fill="#4a4a4a"/>
<path d="M424.4 445.9L430.1 474.3" stroke="#555" stroke-width="0.55" fill="none" stroke-dasharray="3.9 1.5"/>
<path d="M424.4 445.9L426.6 449.3L423.7 449.9Z" fill="#4a4a4a"/>
<path d="M426.6 442.1L458.3 470.0" stroke="#555" stroke-width="0.55" fill="none" stroke-dasharray="3.9 1.5"/>
<path d="M426.6 442.1L430.4 443.5L428.5 445.8Z" fill="#4a4a4a"/>
<path d="M457.2 473.1L401.5 474.6" stroke="#555" stroke-width="0.55" fill="none" stroke-dasharray="3.9 1.5"/>
<path d="M401.5 474.6L405.3 473.0L405.4 476.0Z" fill="#4a4a4a"/>
<path d="M426.4 478.3L401.3 475.3" stroke="#555" stroke-width="0.55" fill="none" stroke-dasharray="3.9 1.5"/>
<path d="M401.3 475.3L405.2 474.2L404.9 477.2Z" fill="#4a4a4a"/>
<path d="M398.9 481.0L404.0 504.6" stroke="#555" stroke-width="0.55" fill="none" stroke-dasharray="3.9 1.5"/>
<path d="M404.0 504.6L401.7 501.2L404.6 500.5Z" fill="#4a4a4a"/>
<path d="M396.7 481.5L403.3 504.7" stroke="#555" stroke-width="0.55" fill="none" stroke-dasharray="3.9 1.5"/>
<path d="M403.3 504.7L400.9 501.5L403.8 500.7Z" fill="#4a4a4a"/>
<path d="M457.9 475.5L408.7 506.6" stroke="#555" stroke-width="0.55" fill="none"/>
<path d="M408.7 506.6L411.1 503.3L412.7 505.9Z" fill="#4a4a4a"/>
<path d="M356.3 494.9L355.0 519.5" stroke="#555" stroke-width="0.55" fill="none"/>
<path d="M355.0 519.5L353.7 515.6L356.7 515.8Z" fill="#4a4a4a"/>
<path d="M362.1 492.5L400.5 507.4" stroke="#555" stroke-width="0.55" fill="none" stroke-dasharray="3.9 1.5"/>
<path d="M400.5 507.4L396.4 507.5L397.5 504.7Z" fill="#4a4a4a"/>
<path d="M362.1 492.5L366.2 492.5L365.1 495.3Z" fill="#4a4a4a"/>
<path d="M362.0 488.3L391.9 476.4" stroke="#555" stroke-width="0.55" fill="none" stroke-dasharray="3.9 1.5"/>
<path d="M364.1 489.2L426.5 479.5" stroke="#555" stroke-width="0.55" fill="none" stroke-dasharray="3.9 1.5"/>
<path d="M426.5 479.5L422.9 481.6L422.5 478.6Z" fill="#4a4a4a"/>
<path d="M363.0 492.1L428.4 509.4" stroke="#555" stroke-width="0.55" fill="none" stroke-dasharray="3.9 1.5"/>
<path d="M428.4 509.4L424.3 509.9L425.1 507.0Z" fill="#4a4a4a"/>
<path d="M354.6 529.1L353.8 561.4" stroke="#555" stroke-width="0.55" fill="none"/>
<path d="M322.6 554.5L349.2 564.5" stroke="#555" stroke-width="0.55" fill="none" stroke-dasharray="3.9 1.5"/>
<path d="M349.2 564.5L345.1 564.6L346.2 561.8Z" fill="#4a4a4a"/>
<path d="M318.3 595.5L350.0 569.3" stroke="#555" stroke-width="0.55" fill="none" stroke-dasharray="3.9 1.5"/>
<path d="M350.0 569.3L348.0 572.8L346.1 570.5Z" fill="#4a4a4a"/>
<path d="M357.4 563.0L385.3 546.9" stroke="#555" stroke-width="0.55" fill="none" stroke-dasharray="3.9 1.5"/>
<path d="M385.3 546.9L382.8 550.1L381.3 547.5Z" fill="#4a4a4a"/>
<path d="M357.4 563.0L359.9 559.8L361.4 562.4Z" fill="#4a4a4a"/>
<path d="M358.2 564.4L385.6 547.4" stroke="#555" stroke-width="0.55" fill="none" stroke-dasharray="3.9 1.5"/>
<path d="M385.6 547.4L383.1 550.6L381.5 548.1Z" fill="#4a4a4a"/>
<path d="M358.6 566.4L406.0 579.6" stroke="#555" stroke-width="0.55" fill="none" stroke-dasharray="3.9 1.5"/>
<path d="M406.0 579.6L402.0 580.0L402.8 577.1Z" fill="#4a4a4a"/>
<path d="M358.3 567.4L406.0 579.9" stroke="#555" stroke-width="0.55" fill="none" stroke-dasharray="3.9 1.5"/>
<path d="M406.0 579.9L401.9 580.4L402.7 577.5Z" fill="#4a4a4a"/>
<path d="M358.1 568.4L405.9 580.2" stroke="#555" stroke-width="0.55" fill="none" stroke-dasharray="3.9 1.5"/>
<path d="M405.9 580.2L401.8 580.7L402.6 577.8Z" fill="#4a4a4a"/>
<path d="M359.3 522.9L400.4 510.4" stroke="#555" stroke-width="0.55" fill="none" stroke-dasharray="3.9 1.5"/>
<path d="M400.4 510.4L397.2 513.0L396.3 510.1Z" fill="#4a4a4a"/>
<path d="M359.4 523.5L428.3 511.4" stroke="#555" stroke-width="0.55" fill="none" stroke-dasharray="3.9 1.5"/>
<path d="M428.3 511.4L424.8 513.6L424.3 510.6Z" fill="#4a4a4a"/>
<path d="M359.4 525.3L419.6 538.0" stroke="#555" stroke-width="0.55" fill="none"/>
<path d="M419.6 538.0L415.6 538.7L416.2 535.7Z" fill="#4a4a4a"/>
<path d="M358.1 527.7L407.2 577.7" stroke="#555" stroke-width="0.55" fill="none" stroke-dasharray="3.9 1.5"/>
<path d="M407.2 577.7L403.5 576.0L405.6 573.9Z" fill="#4a4a4a"/>
<path d="M358.8 526.8L385.4 542.8" stroke="#555" stroke-width="0.55" fill="none" stroke-dasharray="3.9 1.5"/>
<path d="M385.4 542.8L381.4 542.2L383.0 539.6Z" fill="#4a4a4a"/>
<path d="M358.8 526.8L444.6 579.0" stroke="#555" stroke-width="0.55" fill="none" stroke-dasharray="3.9 1.5"/>
<path d="M444.6 579.0L440.6 578.3L442.1 575.7Z" fill="#4a4a4a"/>
<path d="M359.0 522.2L457.7 475.0" stroke="#555" stroke-width="0.55" fill="none" stroke-dasharray="3.9 1.5"/>
<path d="M457.7 475.0L454.9 478.0L453.6 475.3Z" fill="#4a4a4a"/>
<path d="M464.6 469.3L484.0 443.8" stroke="#555" stroke-width="0.55" fill="none" stroke-dasharray="3.9 1.5"/>
<path d="M484.0 443.8L482.9 447.7L480.6 445.9Z" fill="#4a4a4a"/>
<path d="M493.7 492.3L487.7 447.3" stroke="#555" stroke-width="0.55" fill="none" stroke-dasharray="3.9 1.5"/>
<path d="M487.7 447.3L489.7 450.9L486.8 451.3Z" fill="#4a4a4a"/>
<path d="M498.3 494.1L539.5 459.5" stroke="#555" stroke-width="0.55" fill="none" stroke-dasharray="3.9 1.5"/>
<path d="M539.5 459.5L537.5 463.1L535.6 460.8Z" fill="#4a4a4a"/>
<path d="M499.4 498.3L561.9 509.7" stroke="#555" stroke-width="0.55" fill="none" stroke-dasharray="3.9 1.5"/>
<path d="M561.9 509.7L557.9 510.4L558.5 507.5Z" fill="#4a4a4a"/>
<path d="M494.7 502.6L490.9 528.8" stroke="#555" stroke-width="0.55" fill="none" stroke-dasharray="3.9 1.5"/>
<path d="M490.9 528.8L489.9 524.8L492.9 525.3Z" fill="#4a4a4a"/>
<path d="M492.9 502.4L490.3 528.8" stroke="#555" stroke-width="0.55" fill="none" stroke-dasharray="3.9 1.5"/>
<path d="M490.3 528.8L489.2 524.8L492.2 525.1Z" fill="#4a4a4a"/>
<path d="M489.4 498.2L468.1 501.4" stroke="#555" stroke-width="0.55" fill="none" stroke-dasharray="3.9 1.5"/>
<path d="M468.1 501.4L471.6 499.4L472.1 502.3Z" fill="#4a4a4a"/>
<path d="M490.3 494.3L465.5 475.8" stroke="#555" stroke-width="0.55" fill="none" stroke-dasharray="3.9 1.5"/>
<path d="M465.5 475.8L469.4 476.8L467.6 479.2Z" fill="#4a4a4a"/>
<path d="M489.5 496.0L435.4 480.1" stroke="#555" stroke-width="0.55" fill="none" stroke-dasharray="3.9 1.5"/>
<path d="M435.4 480.1L439.5 479.7L438.6 482.6Z" fill="#4a4a4a"/>
<path d="M489.4 498.5L437.7 509.6" stroke="#555" stroke-width="0.55" fill="none" stroke-dasharray="3.9 1.5"/>
<path d="M489.4 498.5L486.0 500.7L485.4 497.8Z" fill="#4a4a4a"/>
<path d="M543.1 581.8L564.7 516.4" stroke="#555" stroke-width="0.55" fill="none" stroke-dasharray="3.9 1.5"/>
<path d="M564.7 516.4L564.9 520.4L562.1 519.5Z" fill="#4a4a4a"/>
<path d="M545.1 589.2L580.6 620.6" stroke="#555" stroke-width="0.55" fill="none"/>
<path d="M580.6 620.6L576.7 619.2L578.7 616.9Z" fill="#4a4a4a"/>
<path d="M537.4 587.7L489.3 604.6" stroke="#555" stroke-width="0.55" fill="none"/>
<path d="M489.3 604.6L492.4 601.9L493.4 604.7Z" fill="#4a4a4a"/>
<path d="M537.3 584.7L503.6 573.3" stroke="#555" stroke-width="0.55" fill="none" stroke-dasharray="3.9 1.5"/>
<path d="M503.6 573.3L507.7 573.1L506.7 576.0Z" fill="#4a4a4a"/>
<path d="M537.1 586.0L453.5 581.7" stroke="#555" stroke-width="0.55" fill="none" stroke-dasharray="3.9 1.5"/>
<path d="M453.5 581.7L457.4 580.4L457.2 583.4Z" fill="#4a4a4a"/>
<path d="M538.4 583.0L492.9 539.2" stroke="#555" stroke-width="0.55" fill="none" stroke-dasharray="3.9 1.5"/>
<path d="M492.9 539.2L496.7 540.7L494.6 542.9Z" fill="#4a4a4a"/>
<path d="M526.3 532.0L502.4 568.1" stroke="#555" stroke-width="0.55" fill="none"/>
<path d="M502.4 568.1L503.3 564.1L505.8 565.8Z" fill="#4a4a4a"/>
<path d="M525.3 531.3L502.1 567.9" stroke="#555" stroke-width="0.55" fill="none"/>
<path d="M502.1 567.9L502.9 563.9L505.4 565.5Z" fill="#4a4a4a"/>
<path d="M523.8 528.8L494.0 535.2" stroke="#555" stroke-width="0.55" fill="none"/>
<path d="M494.0 535.2L497.4 532.9L498.0 535.9Z" fill="#4a4a4a"/>
<path d="M468.1 503.4L585.7 544.3" stroke="#555" stroke-width="0.55" fill="none"/>
<path d="M585.7 544.3L581.7 544.5L582.6 541.7Z" fill="#4a4a4a"/>
<path d="M524.9 524.7L498.2 500.8" stroke="#555" stroke-width="0.55" fill="none" stroke-dasharray="3.9 1.5"/>
<path d="M492.1 541.8L498.3 566.1" stroke="#555" stroke-width="0.55" fill="none" stroke-dasharray="3.9 1.5"/>
<path d="M498.3 566.1L495.9 562.8L498.8 562.1Z" fill="#4a4a4a"/>
<path d="M490.6 542.2L497.9 566.3" stroke="#555" stroke-width="0.55" fill="none" stroke-dasharray="3.9 1.5"/>
<path d="M497.9 566.3L495.3 563.1L498.2 562.2Z" fill="#4a4a4a"/>
<path d="M485.1 536.3L428.2 538.7" stroke="#555" stroke-width="0.55" fill="none" stroke-dasharray="3.9 1.5"/>
<path d="M428.2 538.7L431.9 537.1L432.1 540.1Z" fill="#4a4a4a"/>
<path d="M485.1 536.3L481.4 538.0L481.2 535.0Z" fill="#4a4a4a"/>
<path d="M485.9 538.0L458.7 551.9" stroke="#555" stroke-width="0.55" fill="none" stroke-dasharray="3.9 1.5"/>
<path d="M458.7 551.9L461.4 548.8L462.8 551.5Z" fill="#4a4a4a"/>
<path d="M486.7 539.4L451.9 577.9" stroke="#555" stroke-width="0.55" fill="none" stroke-dasharray="3.9 1.5"/>
<path d="M451.9 577.9L453.4 574.1L455.6 576.1Z" fill="#4a4a4a"/>
<path d="M485.8 534.4L437.4 512.6" stroke="#555" stroke-width="0.55" fill="none" stroke-dasharray="3.9 1.5"/>
<path d="M437.4 512.6L441.5 512.8L440.2 515.5Z" fill="#4a4a4a"/>
<path d="M485.8 534.4L481.8 534.2L483.0 531.4Z" fill="#4a4a4a"/>
<path d="M487.5 531.2L463.7 477.2" stroke="#555" stroke-width="0.55" fill="none" stroke-dasharray="3.9 1.5"/>
<path d="M463.7 477.2L466.6 480.1L463.8 481.3Z" fill="#4a4a4a"/>
<path d="M486.9 532.3L467.4 506.2" stroke="#555" stroke-width="0.55" fill="none" stroke-dasharray="3.9 1.5"/>
<path d="M467.4 506.2L470.8 508.4L468.4 510.2Z" fill="#4a4a4a"/>
<path d="M493.5 538.0L528.7 556.2" stroke="#555" stroke-width="0.55" fill="none" stroke-dasharray="3.9 1.5"/>
<path d="M486.5 533.0L434.3 482.0" stroke="#555" stroke-width="0.55" fill="none" stroke-dasharray="3.9 1.5"/>
<path d="M434.3 482.0L438.1 483.6L436.0 485.7Z" fill="#4a4a4a"/>
<path d="M486.0 538.2L414.8 578.7" stroke="#555" stroke-width="0.55" fill="none" stroke-dasharray="3.9 1.5"/>
<path d="M414.8 578.7L417.3 575.5L418.8 578.2Z" fill="#4a4a4a"/>
<path d="M495.6 572.8L453.4 580.6" stroke="#555" stroke-width="0.55" fill="none" stroke-dasharray="3.9 1.5"/>
<path d="M453.4 580.6L456.9 578.5L457.4 581.4Z" fill="#4a4a4a"/>
<path d="M495.6 572.8L492.1 574.9L491.5 572.0Z" fill="#4a4a4a"/>
<path d="M495.4 572.4L415.4 580.6" stroke="#555" stroke-width="0.55" fill="none" stroke-dasharray="3.9 1.5"/>
<path d="M415.4 580.6L419.0 578.7L419.3 581.7Z" fill="#4a4a4a"/>
<path d="M495.4 572.4L491.8 574.3L491.5 571.3Z" fill="#4a4a4a"/>
<path d="M497.6 576.8L486.7 601.5" stroke="#555" stroke-width="0.55" fill="none"/>
<path d="M497.6 576.8L497.4 580.9L494.7 579.7Z" fill="#4a4a4a"/>
<path d="M501.6 577.2L513.7 609.8" stroke="#555" stroke-width="0.55" fill="none" stroke-dasharray="3.9 1.5"/>
<path d="M513.7 609.8L511.0 606.7L513.8 605.7Z" fill="#4a4a4a"/>
<path d="M503.5 570.4L528.5 560.1" stroke="#555" stroke-width="0.55" fill="none" stroke-dasharray="3.9 1.5"/>
<path d="M503.5 570.4L506.4 567.6L507.6 570.4Z" fill="#4a4a4a"/>
<path d="M495.9 570.5L458.9 555.7" stroke="#555" stroke-width="0.55" fill="none" stroke-dasharray="3.9 1.5"/>
<path d="M458.9 555.7L463.0 555.7L461.8 558.5Z" fill="#4a4a4a"/>
<path d="M496.0 570.4L428.2 540.8" stroke="#555" stroke-width="0.55" fill="none" stroke-dasharray="3.9 1.5"/>
<path d="M496.0 570.4L491.9 570.2L493.1 567.5Z" fill="#4a4a4a"/>
<path d="M496.6 574.9L457.9 610.4" stroke="#555" stroke-width="0.55" fill="none" stroke-dasharray="3.9 1.5"/>
<path d="M531.4 562.7L516.7 609.7" stroke="#555" stroke-width="0.55" fill="none" stroke-dasharray="3.9 1.5"/>
<path d="M516.7 609.7L516.4 605.6L519.2 606.5Z" fill="#4a4a4a"/>
<path d="M532.1 553.7L529.0 532.4" stroke="#555" stroke-width="0.55" fill="none" stroke-dasharray="3.9 1.5"/>
<path d="M530.3 554.4L497.1 501.7" stroke="#555" stroke-width="0.55" fill="none" stroke-dasharray="3.9 1.5"/>
<path d="M497.1 501.7L500.4 504.1L497.9 505.7Z" fill="#4a4a4a"/>
<path d="M422.5 543.2L412.0 576.5" stroke="#555" stroke-width="0.55" fill="none" stroke-dasharray="3.9 1.5"/>
<path d="M412.0 576.5L411.8 572.4L414.6 573.3Z" fill="#4a4a4a"/>
<path d="M425.3 534.6L431.5 515.2" stroke="#555" stroke-width="0.55" fill="none" stroke-dasharray="3.9 1.5"/>
<path d="M431.5 515.2L431.8 519.2L428.9 518.3Z" fill="#4a4a4a"/>
<path d="M426.4 543.2L446.3 577.4" stroke="#555" stroke-width="0.55" fill="none" stroke-dasharray="3.9 1.5"/>
<path d="M446.3 577.4L443.1 574.8L445.7 573.3Z" fill="#4a4a4a"/>
<path d="M421.2 534.6L407.3 513.0" stroke="#555" stroke-width="0.55" fill="none" stroke-dasharray="3.9 1.5"/>
<path d="M407.3 513.0L410.6 515.4L408.1 517.0Z" fill="#4a4a4a"/>
<path d="M419.6 539.7L393.3 544.3" stroke="#555" stroke-width="0.55" fill="none" stroke-dasharray="3.9 1.5"/>
<path d="M393.3 544.3L396.7 542.1L397.3 545.1Z" fill="#4a4a4a"/>
<path d="M419.6 539.7L416.1 541.8L415.6 538.8Z" fill="#4a4a4a"/>
<path d="M428.2 541.0L450.5 552.0" stroke="#555" stroke-width="0.55" fill="none" stroke-dasharray="3.9 1.5"/>
<path d="M432.7 505.8L431.3 483.4" stroke="#555" stroke-width="0.55" fill="none" stroke-dasharray="3.9 1.5"/>
<path d="M431.3 483.4L433.0 487.1L430.0 487.3Z" fill="#4a4a4a"/>
<path d="M435.9 506.8L459.0 476.7" stroke="#555" stroke-width="0.55" fill="none" stroke-dasharray="3.9 1.5"/>
<path d="M459.0 476.7L457.9 480.6L455.5 478.8Z" fill="#4a4a4a"/>
<path d="M437.6 509.3L460.3 503.1" stroke="#555" stroke-width="0.55" fill="none" stroke-dasharray="3.9 1.5"/>
<path d="M460.3 503.1L457.0 505.5L456.2 502.6Z" fill="#4a4a4a"/>
<path d="M434.0 515.3L447.7 576.8" stroke="#555" stroke-width="0.55" fill="none" stroke-dasharray="3.9 1.5"/>
<path d="M447.7 576.8L445.4 573.4L448.3 572.8Z" fill="#4a4a4a"/>
<path d="M431.5 515.2L412.1 576.5" stroke="#555" stroke-width="0.55" fill="none" stroke-dasharray="3.9 1.5"/>
<path d="M412.1 576.5L411.8 572.4L414.6 573.4Z" fill="#4a4a4a"/>
<path d="M428.2 510.3L409.4 509.3" stroke="#555" stroke-width="0.55" fill="none" stroke-dasharray="3.9 1.5"/>
<path d="M409.4 509.3L413.3 508.0L413.1 511.0Z" fill="#4a4a4a"/>
<path d="M450.1 586.1L453.9 608.9" stroke="#555" stroke-width="0.55" fill="none"/>
<path d="M453.9 608.9L451.8 605.4L454.7 605.0Z" fill="#4a4a4a"/>
<path d="M450.1 586.1L452.2 589.6L449.3 590.1Z" fill="#4a4a4a"/>
<path d="M448.9 586.3L453.5 609.0" stroke="#555" stroke-width="0.55" fill="none"/>
<path d="M453.5 609.0L451.2 605.6L454.2 605.0Z" fill="#4a4a4a"/>
<path d="M443.9 581.4L415.4 581.2" stroke="#555" stroke-width="0.55" fill="none" stroke-dasharray="3.9 1.5"/>
<path d="M415.4 581.2L419.2 579.7L419.2 582.7Z" fill="#4a4a4a"/>
<path d="M443.9 581.4L440.1 582.9L440.1 579.9Z" fill="#4a4a4a"/>
<path d="M452.7 584.2L480.0 603.0" stroke="#555" stroke-width="0.55" fill="none" stroke-dasharray="3.9 1.5"/>
<path d="M452.7 584.2L456.6 585.1L454.9 587.6Z" fill="#4a4a4a"/>
<path d="M449.7 576.8L453.6 558.5" stroke="#555" stroke-width="0.55" fill="none" stroke-dasharray="3.9 1.5"/>
<path d="M453.6 558.5L454.3 562.5L451.4 561.9Z" fill="#4a4a4a"/>
<path d="M479.9 607.3L459.0 612.4" stroke="#555" stroke-width="0.55" fill="none" stroke-dasharray="3.9 1.5"/>
<path d="M459.0 612.4L462.3 610.1L463.0 613.0Z" fill="#4a4a4a"/>
<path d="M489.3 607.4L510.8 613.0" stroke="#555" stroke-width="0.55" fill="none" stroke-dasharray="3.9 1.5"/>
<path d="M510.8 613.0L506.8 613.5L507.5 610.6Z" fill="#4a4a4a"/>
<path d="M450.0 614.6L419.8 622.1" stroke="#555" stroke-width="0.55" fill="none"/>
<path d="M419.8 622.1L423.1 619.7L423.8 622.6Z" fill="#4a4a4a"/>
<path d="M456.1 617.8L469.4 652.6" stroke="#555" stroke-width="0.55" fill="none" stroke-dasharray="3.9 1.5"/>
<path d="M469.4 652.6L466.6 649.6L469.4 648.5Z" fill="#4a4a4a"/>
<path d="M411.2 585.9L415.1 618.8" stroke="#555" stroke-width="0.55" fill="none" stroke-dasharray="3.9 1.5"/>
<path d="M415.1 618.8L413.2 615.2L416.1 614.9Z" fill="#4a4a4a"/>
<path d="M404.9 674.9L414.7 627.3" stroke="#555" stroke-width="0.55" fill="none" stroke-dasharray="3.9 1.5"/>
<path d="M414.7 627.3L415.4 631.3L412.5 630.7Z" fill="#4a4a4a"/>
<path d="M366.1 624.8L407.2 584.5" stroke="#555" stroke-width="0.55" fill="none" stroke-dasharray="3.9 1.5"/>
<path d="M407.2 584.5L405.5 588.2L403.4 586.1Z" fill="#4a4a4a"/>
<path d="M391.5 549.2L408.1 577.0" stroke="#555" stroke-width="0.55" fill="none" stroke-dasharray="3.9 1.5"/>
<path d="M408.1 577.0L404.9 574.5L407.5 572.9Z" fill="#4a4a4a"/>
<path d="M392.6 547.2L444.6 579.0" stroke="#555" stroke-width="0.55" fill="none" stroke-dasharray="3.9 1.5"/>
<path d="M444.6 579.0L440.6 578.3L442.1 575.7Z" fill="#4a4a4a"/>
<path d="M456.9 558.0L481.9 601.5" stroke="#555" stroke-width="0.55" fill="none" stroke-dasharray="3.9 1.5"/>
<path d="M481.9 601.5L478.7 599.0L481.3 597.5Z" fill="#4a4a4a"/>
<path d="M463.4 506.3L449.6 576.8" stroke="#555" stroke-width="0.55" fill="none" stroke-dasharray="3.9 1.5"/>
<path d="M449.6 576.8L448.9 572.8L451.8 573.3Z" fill="#4a4a4a"/>
<path d="M461.2 477.6L449.3 576.7" stroke="#555" stroke-width="0.55" fill="none" stroke-dasharray="3.9 1.5"/>
<path d="M449.3 576.7L448.2 572.8L451.2 573.1Z" fill="#4a4a4a"/>
<path d="M405.2 513.7L410.2 576.3" stroke="#555" stroke-width="0.55" fill="none" stroke-dasharray="3.9 1.5"/>
<path d="M410.2 576.3L408.4 572.6L411.4 572.4Z" fill="#4a4a4a"/>
<path d="M430.5 483.4L424.4 534.6" stroke="#555" stroke-width="0.55" fill="none" stroke-dasharray="3.9 1.5"/>
<path d="M424.4 534.6L423.4 530.7L426.3 531.0Z" fill="#4a4a4a"/>
<path d="M430.1 483.3L411.5 576.4" stroke="#555" stroke-width="0.55" fill="none" stroke-dasharray="3.9 1.5"/>
<path d="M462.2 477.6L463.8 497.7" stroke="#555" stroke-width="0.55" fill="none" stroke-dasharray="3.9 1.5"/>
<path d="M463.8 497.7L462.0 494.0L465.0 493.8Z" fill="#4a4a4a"/>
<path d="M463.7 477.2L487.5 531.2" stroke="#555" stroke-width="0.55" fill="none" stroke-dasharray="3.9 1.5"/>
<path d="M450.8 610.8L414.5 584.0" stroke="#555" stroke-width="0.55" fill="none" stroke-dasharray="3.9 1.5"/>
<path d="M414.5 584.0L418.4 585.0L416.6 587.4Z" fill="#4a4a4a"/>
<path d="M538.5 589.5L518.5 610.8" stroke="#555" stroke-width="0.55" fill="none" stroke-dasharray="3.9 1.5"/>
<path d="M402.9 513.3L391.1 540.1" stroke="#555" stroke-width="0.55" fill="none" stroke-dasharray="3.9 1.5"/>
<path d="M392.3 542.4L429.2 513.6" stroke="#555" stroke-width="0.55" fill="none" stroke-dasharray="3.9 1.5"/>
<path d="M450.7 556.4L414.7 578.6" stroke="#555" stroke-width="0.55" fill="none" stroke-dasharray="3.9 1.5"/>
<path d="M414.7 578.6L417.1 575.3L418.7 577.9Z" fill="#4a4a4a"/>
<path d="M359.5 524.7L485.2 535.7" stroke="#555" stroke-width="0.55" fill="none"/>
<path d="M177.6 429.1L181.4 438.2L177.6 447.3L173.8 438.2Z" fill="#f9a3a3" stroke="#e08a8a" stroke-width="0.5"/>
<circle cx="96.8" cy="454.8" r="4" fill="#a6f0a0" stroke="#5cb85c" stroke-width="0.5"/>
<circle cx="64.2" cy="478.8" r="3.8" fill="#cfcfcf" stroke="#8a8a8a" stroke-width="0.5"/>
<circle cx="96.3" cy="484" r="4" fill="#ffffff" stroke="#8a8a8a" stroke-width="0.5"/>
<circle cx="130" cy="491.6" r="4" fill="#ffffff" stroke="#8a8a8a" stroke-width="0.5"/>
<path d="M30.6 487.1L34.8 496.6L30.6 506.1L26.4 496.6Z" fill="#ffffff" stroke="#8a8a8a" stroke-width="0.5"/>
<circle cx="82.3" cy="514.4" r="3.7" fill="#a6f0a0" stroke="#5cb85c" stroke-width="0.5"/>
<circle cx="129.6" cy="523.2" r="4" fill="#ffffff" stroke="#8a8a8a" stroke-width="0.5"/>
<circle cx="49.7" cy="534" r="4" fill="#a6f0a0" stroke="#5cb85c" stroke-width="0.5"/>
<circle cx="13.6" cy="545" r="4" fill="#ffffff" stroke="#8a8a8a" stroke-width="0.5"/>
<ellipse cx="90.7" cy="548.3" rx="9" ry="4.4" fill="#a6f0a0" stroke="#5cb85c" stroke-width="0.5"/>
<circle cx="129.6" cy="553.3" r="4" fill="#ffffff" stroke="#8a8a8a" stroke-width="0.5"/>
<circle cx="44.4" cy="562.6" r="4" fill="#ffffff" stroke="#8a8a8a" stroke-width="0.5"/>
<path d="M156.6 560.3H167.2L165.6 565.5H158.2Z" fill="#ffffff" stroke="#8a8a8a" stroke-width="0.5"/>
<path d="M9.1 573.9L14.1 582.8L9.1 591.7L4.1 582.8Z" fill="#ffffff" stroke="#8a8a8a" stroke-width="0.5"/>
<ellipse cx="77.4" cy="585.8" rx="9.5" ry="4" fill="#a6f0a0" stroke="#5cb85c" stroke-width="0.5"/>
<circle cx="132.6" cy="587.8" r="4.3" fill="#cfcfcf" stroke="#8a8a8a" stroke-width="0.5"/>
<circle cx="38.4" cy="616.8" r="4" fill="#a6f0a0" stroke="#5cb85c" stroke-width="0.5"/>
<ellipse cx="97.8" cy="623.9" rx="8.8" ry="4" fill="#a6f0a0" stroke="#5cb85c" stroke-width="0.5"/>
<circle cx="136.2" cy="623.1" r="4" fill="#ffffff" stroke="#8a8a8a" stroke-width="0.5"/>
<ellipse cx="59.6" cy="651.2" rx="9.1" ry="3.9" fill="#ffffff" stroke="#8a8a8a" stroke-width="0.5"/>
<circle cx="99.3" cy="658.5" r="4.3" fill="#ffffff" stroke="#8a8a8a" stroke-width="0.5"/>
<path d="M125.2 657.2H132.4L128.8 665.8Z" fill="#ffffff" stroke="#8a8a8a" stroke-width="0.5"/>
<path d="M163.5 514.0L168.0 523L163.5 532.0L159.0 523Z" fill="#ffffff" stroke="#8a8a8a" stroke-width="0.5"/>
<circle cx="203.8" cy="486.8" r="4.3" fill="#ffffff" stroke="#8a8a8a" stroke-width="0.5"/>
<rect x="247.1" y="471.3" width="8.8" height="8.8" fill="#ffffff" stroke="#8a8a8a" stroke-width="0.5" stroke-dasharray="1.2 0.8"/>
<circle cx="245.3" cy="510.8" r="4.3" fill="#ffffff" stroke="#8a8a8a" stroke-width="0.5"/>
<path d="M279.4 509.1L284.3 518.4L279.4 527.7L274.5 518.4Z" fill="#f78080" stroke="#e08a8a" stroke-width="0.5"/>
<path d="M211 516.5L215.5 526L211 535.5L206.5 526Z" fill="#ffffff" stroke="#8a8a8a" stroke-width="0.5"/>
<circle cx="245.2" cy="545.6" r="4.3" fill="#ffffff" stroke="#8a8a8a" stroke-width="0.5"/>
<ellipse cx="196.2" cy="564" rx="4.5" ry="10" fill="#f78080" stroke="#e08a8a" stroke-width="0.5"/>
<path d="M286 559.2L295.0 564L286 568.8L277.0 564Z" fill="#f9a3a3" stroke="#e08a8a" stroke-width="0.5"/>
<circle cx="235.6" cy="585" r="4.3" fill="#ffffff" stroke="#8a8a8a" stroke-width="0.5"/>
<circle cx="165.6" cy="598.8" r="5" fill="#ffffff" stroke="#8a8a8a" stroke-width="0.5"/>
<rect x="186.8" y="640.6" width="9.2" height="19.2" fill="#f78080" stroke="#e08a8a" stroke-width="0.5"/>
<path d="M423 430.0L428.0 439L423 448.0L418.0 439Z" fill="#ffffff" stroke="#8a8a8a" stroke-width="0.5"/>
<path d="M486.8 431.5L491.0 440.2L486.8 448.9L482.6 440.2Z" fill="#a6f0a0" stroke="#5cb85c" stroke-width="0.5"/>
<path d="M542.7 448.1L546.9 456.8L542.7 465.5L538.5 456.8Z" fill="#a6f0a0" stroke="#5cb85c" stroke-width="0.5"/>
<path d="M396.3 465.7L401.3 474.7L396.3 483.7L391.3 474.7Z" fill="#a6f0a0" stroke="#5cb85c" stroke-width="0.5"/>
<circle cx="461.8" cy="473" r="4.3" fill="#ffffff" stroke="#8a8a8a" stroke-width="0.5"/>
<circle cx="431" cy="478.8" r="4.3" fill="#ffffff" stroke="#8a8a8a" stroke-width="0.5"/>
<path d="M356.6 486.1L366.4 490.4L356.6 494.7L346.8 490.4Z" fill="#7be87b" stroke="#5cb85c" stroke-width="0.5"/>
<circle cx="494.4" cy="497.4" r="4.8" fill="#7be87b" stroke="#5cb85c" stroke-width="0.5"/>
<rect x="460.6" y="498.0" width="7.2" height="8.0" fill="#ffffff" stroke="#8a8a8a" stroke-width="0.5"/>
<circle cx="404.8" cy="509.1" r="4.3" fill="#ffffff" stroke="#8a8a8a" stroke-width="0.5"/>
<circle cx="433" cy="510.6" r="4.5" fill="#ffffff" stroke="#8a8a8a" stroke-width="0.5"/>
<path d="M566.6 501.5L571.4 510.5L566.6 519.5L561.8 510.5Z" fill="#55e055" stroke="#5cb85c" stroke-width="0.5"/>
<circle cx="354.7" cy="524.3" r="4.5" fill="#ffffff" stroke="#8a8a8a" stroke-width="0.5"/>
<circle cx="528.3" cy="527.8" r="4.3" fill="#ffffff" stroke="#8a8a8a" stroke-width="0.5"/>
<path d="M489.7 527.4L494.1 536.1L489.7 544.8L485.3 536.1Z" fill="#3fd83f" stroke="#5cb85c" stroke-width="0.5"/>
<rect x="419.9" y="534.9" width="8.0" height="8.0" fill="#66e066" stroke="#5cb85c" stroke-width="0.5"/>
<path d="M389 536.3L393.3 545L389 553.7L384.7 545Z" fill="#a6f0a0" stroke="#5cb85c" stroke-width="0.5"/>
<ellipse cx="593.4" cy="547" rx="10" ry="3.8" fill="#f99a9a" stroke="#e08a8a" stroke-width="0.5"/>
<circle cx="318.6" cy="553" r="4" fill="#a6f0a0" stroke="#5cb85c" stroke-width="0.5"/>
<circle cx="454.6" cy="554" r="4.3" fill="#ffffff" stroke="#8a8a8a" stroke-width="0.5"/>
<circle cx="532.8" cy="558.3" r="4.3" fill="#ffffff" stroke="#8a8a8a" stroke-width="0.5"/>
<circle cx="353.7" cy="566.2" r="4.5" fill="#ffffff" stroke="#8a8a8a" stroke-width="0.5"/>
<path d="M499.7 563.3L503.9 572L499.7 580.7L495.5 572Z" fill="#66e866" stroke="#5cb85c" stroke-width="0.5"/>
<circle cx="410.6" cy="581.1" r="4.5" fill="#ffffff" stroke="#8a8a8a" stroke-width="0.5"/>
<circle cx="448.7" cy="581.5" r="4.5" fill="#ffffff" stroke="#8a8a8a" stroke-width="0.5"/>
<circle cx="541.7" cy="586.2" r="4.3" fill="#ffffff" stroke="#8a8a8a" stroke-width="0.5"/>
<ellipse cx="313.9" cy="599.1" rx="4.5" ry="9.3" fill="#66e866" stroke="#5cb85c" stroke-width="0.5"/>
<rect x="480.2" y="601.8" width="8.8" height="8.8" fill="#f78080" stroke="#e08a8a" stroke-width="0.5"/>
<circle cx="454.5" cy="613.5" r="4.3" fill="#ffffff" stroke="#8a8a8a" stroke-width="0.5"/>
<circle cx="515.3" cy="614.1" r="4.3" fill="#ffffff" stroke="#8a8a8a" stroke-width="0.5"/>
<circle cx="415.6" cy="623.1" r="4" fill="#ffffff" stroke="#8a8a8a" stroke-width="0.5"/>
<circle cx="584" cy="623.6" r="4.3" fill="#33dd33" stroke="#5cb85c" stroke-width="0.5"/>
<ellipse cx="361.9" cy="628.9" rx="9.7" ry="4.3" fill="#a6f0a0" stroke="#5cb85c" stroke-width="0.5"/>
<path d="M471.4 649.0L475.9 658L471.4 667.0L466.9 658Z" fill="#f78080" stroke="#e08a8a" stroke-width="0.5"/>
<rect x="399.3" y="675.2" width="9.4" height="8.4" fill="#a6f0a0" stroke="#5cb85c" stroke-width="0.5"/>
<text x="177.6" y="439.8" font-size="4.6" text-anchor="middle" fill="#111" stroke="#111" stroke-width="0.12">ACAT2</text>
<text x="96.8" y="456.4" font-size="4.6" text-anchor="middle" fill="#111" stroke="#111" stroke-width="0.12">MCM10</text>
<text x="64.2" y="480.4" font-size="4.6" text-anchor="middle" fill="#111" stroke="#111" stroke-width="0.12">NUSAP1</text>
<text x="96.3" y="485.6" font-size="4.6" text-anchor="middle" fill="#111" stroke="#111" stroke-width="0.12">TRMT13</text>
<text x="130.0" y="493.2" font-size="4.6" text-anchor="middle" fill="#111" stroke="#111" stroke-width="0.12">DLEU1</text>
<text x="30.6" y="498.2" font-size="4.6" text-anchor="middle" fill="#111" stroke="#111" stroke-width="0.12">ALG5</text>
<text x="82.3" y="516.0" font-size="4.6" text-anchor="middle" fill="#111" stroke="#111" stroke-width="0.12">E2f</text>
<text x="129.6" y="524.9" font-size="4.6" text-anchor="middle" fill="#111" stroke="#111" stroke-width="0.12">Hist1H2BJ</text>
<text x="49.7" y="535.6" font-size="4.6" text-anchor="middle" fill="#111" stroke="#111" stroke-width="0.12">CDC45</text>
<text x="11.6" y="546.6" font-size="4.6" text-anchor="middle" fill="#111" stroke="#111" stroke-width="0.12">SNRPB</text>
<text x="90.7" y="549.9" font-size="4.6" text-anchor="middle" fill="#111" stroke="#111" stroke-width="0.12">E2F1</text>
<text x="129.6" y="554.9" font-size="4.6" text-anchor="middle" fill="#111" stroke="#111" stroke-width="0.12">Raet1d/Raet1e</text>
<text x="43.0" y="564.2" font-size="4.6" text-anchor="middle" fill="#111" stroke="#111" stroke-width="0.12">DLEU2</text>
<text x="161.9" y="564.5" font-size="4.6" text-anchor="middle" fill="#111" stroke="#111" stroke-width="0.12">DGKI</text>
<text x="9.1" y="584.4" font-size="4.6" text-anchor="middle" fill="#111" stroke="#111" stroke-width="0.12">AMY2B</text>
<text x="77.4" y="587.4" font-size="4.6" text-anchor="middle" fill="#111" stroke="#111" stroke-width="0.12">E2F2</text>
<text x="132.6" y="589.4" font-size="4.6" text-anchor="middle" fill="#111" stroke="#111" stroke-width="0.12">Cyclin A</text>
<text x="38.4" y="618.4" font-size="4.6" text-anchor="middle" fill="#111" stroke="#111" stroke-width="0.12">KIAA0101</text>
<text x="97.8" y="625.5" font-size="4.6" text-anchor="middle" fill="#111" stroke="#111" stroke-width="0.12">MYBL2</text>
<text x="136.2" y="624.8" font-size="4.6" text-anchor="middle" fill="#111" stroke="#111" stroke-width="0.12">Histone h3</text>
<text x="59.6" y="652.9" font-size="4.6" text-anchor="middle" fill="#111" stroke="#111" stroke-width="0.12">JMY</text>
<text x="98.5" y="659.4" font-size="4.6" text-anchor="middle" fill="#111" stroke="#111" stroke-width="0.12">MT1G</text>
<text x="128.8" y="665.8" font-size="4.6" text-anchor="middle" fill="#111" stroke="#111" stroke-width="0.12">VRK1</text>
<text x="163.5" y="524.6" font-size="4.6" text-anchor="middle" fill="#111" stroke="#111" stroke-width="0.12">SOAT2</text>
<text x="203.8" y="488.4" font-size="4.6" text-anchor="middle" fill="#111" stroke="#111" stroke-width="0.12">VLDL-cholesterol</text>
<text x="251.5" y="477.3" font-size="4.6" text-anchor="middle" fill="#111" stroke="#111" stroke-width="0.12">ANGPTL3</text>
<text x="245.3" y="512.5" font-size="4.6" text-anchor="middle" fill="#111" stroke="#111" stroke-width="0.12">LDL-cholesterol</text>
<text x="279.4" y="520.0" font-size="4.6" text-anchor="middle" fill="#111" stroke="#111" stroke-width="0.12">LIPG</text>
<text x="212.5" y="527.6" font-size="4.6" text-anchor="middle" fill="#111" stroke="#111" stroke-width="0.12">LIPC</text>
<text x="245.2" y="547.2" font-size="4.6" text-anchor="middle" fill="#111" stroke="#111" stroke-width="0.12">HDL-cholesterol</text>
<text x="196.2" y="565.6" font-size="4.6" text-anchor="middle" fill="#111" stroke="#111" stroke-width="0.12">OLR1</text>
<text x="286.0" y="565.6" font-size="4.6" text-anchor="middle" fill="#111" stroke="#111" stroke-width="0.12">PCSK9</text>
<text x="235.6" y="587.2" font-size="4.6" text-anchor="middle" fill="#111" stroke="#111" stroke-width="0.12">LDL</text>
<text x="165.6" y="601.0" font-size="4.6" text-anchor="middle" fill="#111" stroke="#111" stroke-width="0.12">Erk1/2</text>
<text x="191.4" y="651.9" font-size="4.6" text-anchor="middle" fill="#111" stroke="#111" stroke-width="0.12">ADRA1B</text>
<text x="423.0" y="440.6" font-size="4.6" text-anchor="middle" fill="#111" stroke="#111" stroke-width="0.12">PLA2G7</text>
<text x="486.8" y="441.8" font-size="4.6" text-anchor="middle" fill="#111" stroke="#111" stroke-width="0.12">DHCR24</text>
<text x="542.7" y="458.4" font-size="4.6" text-anchor="middle" fill="#111" stroke="#111" stroke-width="0.12">TM7SF2</text>
<text x="396.3" y="476.3" font-size="4.6" text-anchor="middle" fill="#111" stroke="#111" stroke-width="0.12">LIPG</text>
<text x="461.8" y="474.6" font-size="4.6" text-anchor="middle" fill="#111" stroke="#111" stroke-width="0.12">VLDL-cholesterol</text>
<text x="431.0" y="480.4" font-size="4.6" text-anchor="middle" fill="#111" stroke="#111" stroke-width="0.12">HDL-cholesterol</text>
<text x="356.6" y="492.0" font-size="4.6" text-anchor="middle" fill="#111" stroke="#111" stroke-width="0.12">PCSK9</text>
<text x="494.4" y="499.0" font-size="4.6" text-anchor="middle" fill="#111" stroke="#111" stroke-width="0.12">INSIG1</text>
<text x="464.2" y="503.6" font-size="4.6" text-anchor="middle" fill="#111" stroke="#111" stroke-width="0.12">TRIB1</text>
<text x="404.8" y="510.8" font-size="4.6" text-anchor="middle" fill="#111" stroke="#111" stroke-width="0.12">LDL-cholesterol</text>
<text x="433.0" y="512.2" font-size="4.6" text-anchor="middle" fill="#111" stroke="#111" stroke-width="0.12">P38 MAPK</text>
<text x="566.6" y="512.1" font-size="4.6" text-anchor="middle" fill="#111" stroke="#111" stroke-width="0.12">FADS2</text>
<text x="354.7" y="525.9" font-size="4.6" text-anchor="middle" fill="#111" stroke="#111" stroke-width="0.12">LDL</text>
<text x="528.3" y="529.4" font-size="4.6" text-anchor="middle" fill="#111" stroke="#111" stroke-width="0.12">Histone h3</text>
<text x="489.7" y="537.8" font-size="4.6" text-anchor="middle" fill="#111" stroke="#111" stroke-width="0.12">SCD</text>
<text x="423.9" y="540.5" font-size="4.6" text-anchor="middle" fill="#111" stroke="#111" stroke-width="0.12">DLK1</text>
<text x="389.0" y="546.6" font-size="4.6" text-anchor="middle" fill="#111" stroke="#111" stroke-width="0.12">DHCR7</text>
<text x="593.4" y="548.6" font-size="4.6" text-anchor="middle" fill="#111" stroke="#111" stroke-width="0.12">GLI1</text>
<text x="318.6" y="554.6" font-size="4.6" text-anchor="middle" fill="#111" stroke="#111" stroke-width="0.12">STAP2</text>
<text x="454.6" y="555.6" font-size="4.6" text-anchor="middle" fill="#111" stroke="#111" stroke-width="0.12">FSH</text>
<text x="532.8" y="559.9" font-size="4.6" text-anchor="middle" fill="#111" stroke="#111" stroke-width="0.12">MTORC1</text>
<text x="353.7" y="567.9" font-size="4.6" text-anchor="middle" fill="#111" stroke="#111" stroke-width="0.12">IgG</text>
<text x="499.7" y="573.6" font-size="4.6" text-anchor="middle" fill="#111" stroke="#111" stroke-width="0.12">FASN</text>
<text x="410.6" y="582.8" font-size="4.6" text-anchor="middle" fill="#111" stroke="#111" stroke-width="0.12">NFkB (complex)</text>
<text x="448.7" y="583.1" font-size="4.6" text-anchor="middle" fill="#111" stroke="#111" stroke-width="0.12">Akt</text>
<text x="541.7" y="587.9" font-size="4.6" text-anchor="middle" fill="#111" stroke="#111" stroke-width="0.12">N-cor</text>
<text x="313.9" y="600.8" font-size="4.6" text-anchor="middle" fill="#111" stroke="#111" stroke-width="0.12">IL21R</text>
<text x="484.6" y="607.9" font-size="4.6" text-anchor="middle" fill="#111" stroke="#111" stroke-width="0.12">IGF1</text>
<text x="454.5" y="615.1" font-size="4.6" text-anchor="middle" fill="#111" stroke="#111" stroke-width="0.12">Gsk3</text>
<text x="515.3" y="615.8" font-size="4.6" text-anchor="middle" fill="#111" stroke="#111" stroke-width="0.12">p70 S6k</text>
<text x="415.6" y="624.8" font-size="4.6" text-anchor="middle" fill="#111" stroke="#111" stroke-width="0.12">Ap1</text>
<text x="584.0" y="625.2" font-size="4.6" text-anchor="middle" fill="#111" stroke="#111" stroke-width="0.12">MCTP1</text>
<text x="361.9" y="630.5" font-size="4.6" text-anchor="middle" fill="#111" stroke="#111" stroke-width="0.12">RNF112</text>
<text x="471.4" y="659.6" font-size="4.6" text-anchor="middle" fill="#111" stroke="#111" stroke-width="0.12">NOX4</text>
<text x="404.0" y="681.0" font-size="4.6" text-anchor="middle" fill="#111" stroke="#111" stroke-width="0.12">DCN</text>
</svg></body></html>
